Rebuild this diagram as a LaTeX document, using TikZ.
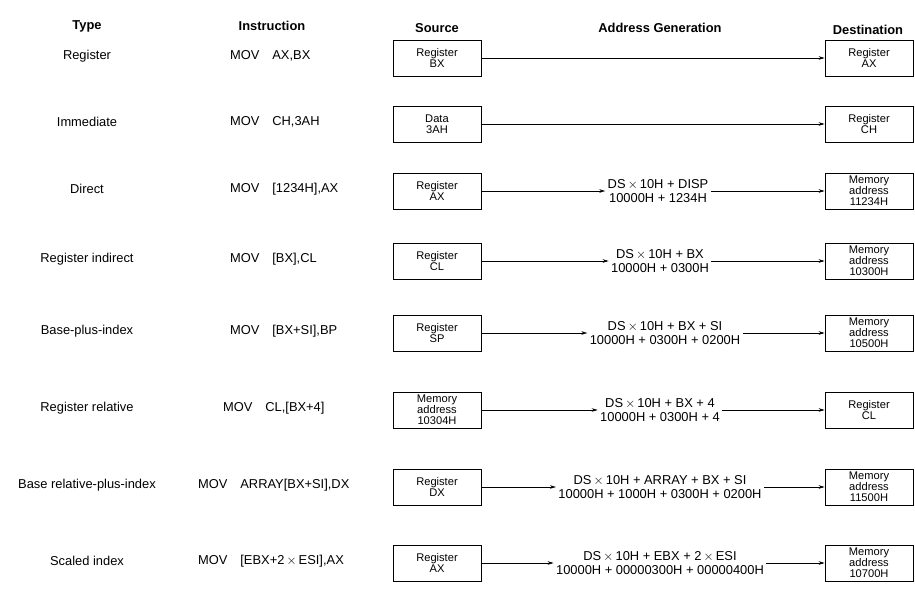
\documentclass[tikz,border=0pt]{standalone}
\usepackage{fontspec}
\setmainfont{Liberation Sans}
\usetikzlibrary{arrows.meta}
\begin{document}
\begin{tikzpicture} [
                x=0.03cm, y=-0.03cm,
                head/.style = {font=\fontsize{11}{12}\selectfont\bfseries},
                cell/.style = {font=\fontsize{11}{12}\selectfont},
                box/.style = {draw,thick,minimum width=88*0.03cm,minimum height=36*0.03cm,inner sep=1pt,align=center,font=\fontsize{9.5}{9.5}\selectfont},
                addr/.style = {align=center,inner sep=2pt,font=\fontsize{11}{12}\selectfont},
                flow/.style = {draw,-{Stealth[length=5pt,width=3pt]}},
            ]
            \useasboundingbox (0,0) rectangle (915,594);
            % Column heads
            \node[head] (htype) at (87,26) {Type};
            \node[head] (hinstr) at (272,26) {Instruction};
            \node[head] (hsrc) at (437,28) {Source};
            \node[head] (haddr) at (660,28) {Address Generation};
            \node[head] (hdst) at (868,30) {Destination};
            % Rows: type, instruction, source and destination
            \foreach \i/\y/\type/\instr/\src/\dst in {
                    1/58/Register/{MOV\quad AX,BX}/{Register\\BX}/{Register\\AX},
                    2/124/Immediate/{MOV\quad CH,3AH}/{Data\\3AH}/{Register\\CH},
                    3/191/Direct/{MOV\quad [1234H],AX}/{Register\\AX}/{Memory\\address\\11234H},
                    4/261/Register indirect/{MOV\quad [BX],CL}/{Register\\CL}/{Memory\\address\\10300H},
                    5/333/Base-plus-index/{MOV\quad [BX+SI],BP}/{Register\\SP}/{Memory\\address\\10500H},
                    6/410/Register relative/{MOV\quad CL,[BX+4]}/{Memory\\address\\10304H}/{Register\\CL},
                    7/487/Base relative-plus-index/{MOV\quad ARRAY[BX+SI],DX}/{Register\\DX}/{Memory\\address\\11500H},
                    8/563/Scaled index/{MOV\quad [EBX+2\,$\times$\,ESI],AX}/{Register\\AX}/{Memory\\address\\10700H}}
                {
                \node[cell] (t\i) at (87,\y-2) {\type};
                \node[cell,anchor=west] (n\i) at (\ifnum\i>6 194\else\ifnum\i=6 219\else 226\fi\fi,\y-2) {\instr};
                \node[box] (s\i) at (437,\y) {\src};
                \node[box] (d\i) at (869,\y) {\dst};
                }
            % Direct moves
            \path[flow] (s1) -- (d1);
            \path[flow] (s2) -- (d2);
            % Address generation
            \foreach \i/\x/\y/\txt in {
                    3/658/191/{DS\,$\times$\,10H + DISP\\10000H + 1234H},
                    4/660/261/{DS\,$\times$\,10H + BX\\10000H + 0300H},
                    5/665/333/{DS\,$\times$\,10H + BX + SI\\10000H + 0300H + 0200H},
                    6/660/410/{DS\,$\times$\,10H + BX + 4\\10000H + 0300H + 4},
                    7/660/487/{DS\,$\times$\,10H + ARRAY + BX + SI\\10000H + 1000H + 0300H + 0200H},
                    8/660/563/{DS\,$\times$\,10H + EBX + 2\,$\times$\,ESI\\10000H + 00000300H + 00000400H}}
                {
                \node[addr] (a\i) at (\x,\y) {\txt};
                \path[flow] (s\i) -- (s\i -| a\i.west);
                \path[flow] (d\i -| a\i.east) -- (d\i);
                }
        \end{tikzpicture}
\end{document}
